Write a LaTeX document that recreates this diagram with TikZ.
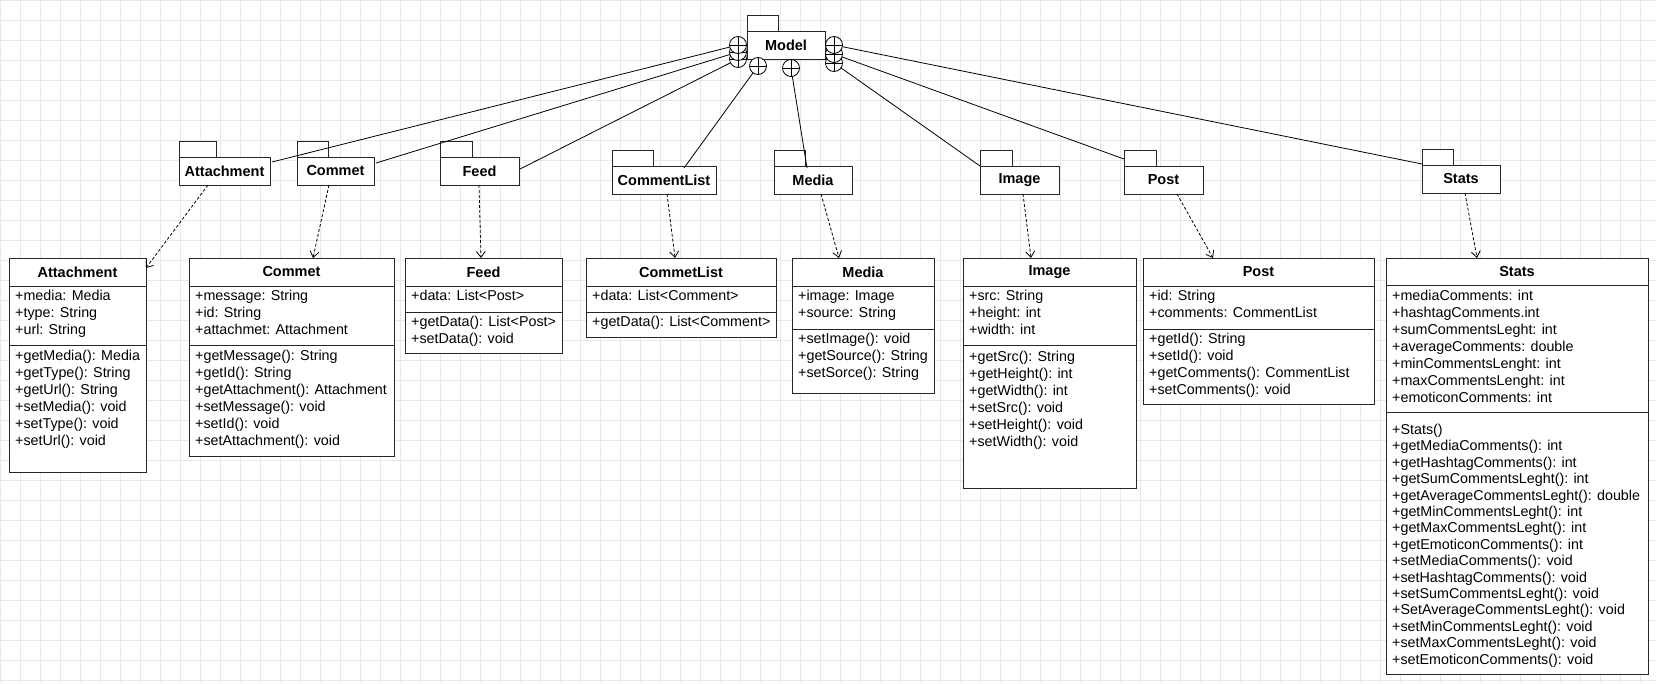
\documentclass[tikz,border=0pt]{standalone}
\usepackage{fontspec}
\setmainfont{Liberation Sans}
\usetikzlibrary{arrows.meta}
\tikzset{
  box/.style={draw=black!85, line width=0.9pt, fill=white, inner sep=0pt, outer sep=0pt, anchor=north west},
  lbl/.style={anchor=north west, inner sep=0pt, align=left, font=\fontsize{14.3}{17}\selectfont},
  ttl/.style={inner sep=0pt, font=\fontsize{14.5}{16}\selectfont\bfseries},
  dep/.style={densely dashed, line width=0.8pt, -{Straight Barb[length=6pt,width=9pt]}},
  link/.style={line width=0.8pt},
  nest/.style={circle, draw, line width=0.8pt, fill=white, minimum size=17pt, inner sep=0pt,
    path picture={\draw[line width=0.8pt] (path picture bounding box.north) -- (path picture bounding box.south)
      (path picture bounding box.west) -- (path picture bounding box.east);}}
}
\newcommand\clsbox[8]{% name,x1,y1,x2,yh,yd,y2,title
  \node[box, minimum width={(#4-#2)*1pt}, minimum height={(#7-#3)*1pt}] (#1) at (#2,#3) {};
  \draw[line width=0.9pt, black!85] (#2,#5) -- (#4,#5) (#2,#6) -- (#4,#6);
  \node[ttl] (#1t) at ({(#2+#4)/2},{(#3+#5)/2}) {#8};
}
\newcommand\pkg[6]{% name,x1,ytab,xtab2,x2,title
  \draw[line width=0.9pt, black!85, fill=white] (#2,#3) rectangle (#4,#3+16);
  \node[box, minimum width={(#5-#2)*1pt}, minimum height=28pt] (#1) at (#2,#3+16) {};
  \node[ttl] (#1t) at ({(#2+#5)/2},#3+30) {#6};
}
\begin{document}
\begin{tikzpicture}[x=1pt,y=-1pt]
\useasboundingbox (0,0) rectangle (1656,683);
\fill[white] (0,0) rectangle (1656,683);
\foreach \i in {0,20,...,1660} \draw[black!9, line width=0.5pt] (\i,0) -- (\i,683);
\foreach \j in {0,20,...,680} \draw[black!9, line width=0.5pt] (0,\j) -- (1656,\j);

% packages
\pkg{pAtt}{179}{141}{216}{270}{Attachment}
\pkg{pCom}{297}{141}{328}{374}{Commet}
\pkg{pFeed}{440}{141}{472}{519}{Feed}
\pkg{pCL}{612}{150}{653}{716}{CommentList}
\pkg{pMed}{774}{150}{805}{852}{Media}
\pkg{pImg}{980}{150}{1012}{1059}{Image}
\pkg{pPost}{1124}{150}{1156}{1203}{Post}
\pkg{pSt}{1422}{149}{1453}{1500}{Stats}

% model
\draw[line width=0.9pt, black!85, fill=white] (747,15) rectangle (778,31);
\node[box, minimum width=78pt, minimum height=28pt] (model) at (747,31) {};
\node[ttl] (modelt) at (786,45) {Model};

\coordinate (n1) at (738,45);
\coordinate (n2) at (738,52);
\coordinate (n3) at (738,59);
\coordinate (n4) at (758,66);
\coordinate (n5) at (791,68);
\coordinate (n6) at (834,63);
\coordinate (n7) at (834,54);
\coordinate (n8) at (834,45);

\draw[link] (n1) -- ([xshift=2pt,yshift=-5pt]pAtt.north east);
\draw[link] (n2) -- ([xshift=2pt,yshift=-6pt]pCom.north east);
\draw[link] (n3) -- ([xshift=1pt,yshift=-12pt]pFeed.north east);
\draw[link] (n4) -- ([xshift=-32pt,yshift=-2pt]pCL.north east);
\draw[link] (n5) -- ([xshift=-45pt,yshift=-2pt]pMed.north east);
\draw[link] (n6) -- (pImg.north west);
\draw[link] (n7) -- ([yshift=7pt]pPost.north west);
\draw[link] (n8) -- ([yshift=1pt]pSt.north west);

\foreach \c in {n3,n2,n1,n4,n5,n6,n7,n8} \node[nest] at (\c) {};

% classes
\clsbox{cAtt}{9}{258}{146}{286}{345}{472}{Attachment}
\node[lbl] at (15,290) {+media: Media\\+type: String\\+url: String};
\node[lbl] at (15,350) {+getMedia(): Media\\+getType(): String\\+getUrl(): String\\+setMedia(): void\\+setType(): void\\+setUrl(): void};

\clsbox{cCom}{189}{258}{394}{286}{345}{456}{Commet}
\node[lbl] at (195,290) {+message: String\\+id: String\\+attachmet: Attachment};
\node[lbl] at (195,350) {+getMessage(): String\\+getId(): String\\+getAttachment(): Attachment\\+setMessage(): void\\+setId(): void\\+setAttachment(): void};

\clsbox{cFeed}{405}{258}{562}{286}{312}{353}{Feed}
\node[lbl] at (411,290) {+data: List<Post>};
\node[lbl] at (411,316) {+getData(): List<Post>\\+setData(): void};

\clsbox{cCL}{586}{258}{776}{286}{312}{337}{CommetList}
\node[lbl] at (592,290) {+data: List<Comment>};
\node[lbl] at (592,316) {+getData(): List<Comment>};

\clsbox{cMed}{792}{258}{934}{286}{329}{393}{Media}
\node[lbl] at (798,290) {+image: Image\\+source: String};
\node[lbl] at (798,333) {+setImage(): void\\+getSource(): String\\+setSorce(): String};

\clsbox{cImg}{963}{258}{1136}{286}{345}{488}{Image}
\node[lbl] at (969,290) {+src: String\\+height: int\\+width: int};
\node[lbl] at (969,351) {+getSrc(): String\\+getHeight(): int\\+getWidth(): int\\+setSrc(): void\\+setHeight(): void\\+setWidth(): void};

\clsbox{cPost}{1143}{258}{1374}{286}{329}{404}{Post}
\node[lbl] at (1149,290) {+id: String\\+comments: CommentList};
\node[lbl] at (1149,333) {+getId(): String\\+setId(): void\\+getComments(): CommentList\\+setComments(): void};

\clsbox{cSt}{1386}{258}{1648}{285}{412}{674}{Stats}
\node[lbl] at (1392,290) {+mediaComments: int\\+hashtagComments.int\\+sumCommentsLeght: int\\+averageComments: double\\+minCommentsLenght: int\\+maxCommentsLenght: int\\+emoticonComments: int};
\node[lbl, font=\fontsize{14.3}{16.4}\selectfont] at (1392,424) {+Stats()\\+getMediaComments(): int\\+getHashtagComments(): int\\+getSumCommentsLeght(): int\\+getAverageCommentsLeght(): double\\+getMinCommentsLeght(): int\\+getMaxCommentsLeght(): int\\+getEmoticonComments(): int\\+setMediaComments(): void\\+setHashtagComments(): void\\+setSumCommentsLeght(): void\\+SetAverageCommentsLeght(): void\\+setMinCommentsLeght(): void\\+setMaxCommentsLeght(): void\\+setEmoticonComments(): void};

% dependencies
\draw[dep] ([xshift=29pt]pAtt.south west) -- ([yshift=-10pt]cAtt.north east);
\draw[dep] ([xshift=32pt]pCom.south west) -- ([xshift=124pt]cCom.north west);
\draw[dep] ([xshift=39pt]pFeed.south west) -- ([xshift=76pt]cFeed.north west);
\draw[dep] ([xshift=55pt]pCL.south west) -- ([xshift=89pt]cCL.north west);
\draw[dep] ([xshift=47pt]pMed.south west) -- ([xshift=47pt]cMed.north west);
\draw[dep] ([xshift=43pt]pImg.south west) -- ([xshift=68pt]cImg.north west);
\draw[dep] ([xshift=53pt]pPost.south west) -- ([xshift=70pt]cPost.north west);
\draw[dep] ([xshift=43pt]pSt.south west) -- ([xshift=91pt]cSt.north west);
\end{tikzpicture}
\end{document}
